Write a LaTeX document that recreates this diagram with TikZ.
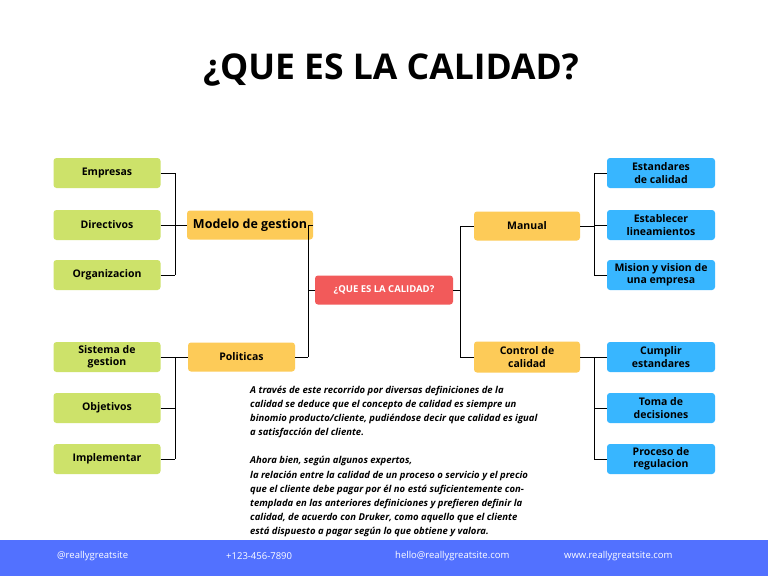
\documentclass[tikz,border=0pt]{standalone}
\usepackage{fontspec}
\setmainfont{Open Sans}
\definecolor{gr}{HTML}{CDE26A}
\definecolor{ye}{HTML}{FDCB58}
\definecolor{bl}{HTML}{38B6FF}
\definecolor{rd}{HTML}{F25A5A}
\definecolor{ft}{HTML}{5271FF}
\begin{document}
\begin{tikzpicture}[x=1pt,y=-1pt,
 bx/.style={rounded corners=3pt,align=center,font=\bfseries\fontsize{10.5}{12.5}\selectfont,inner sep=0pt},
 g/.style={bx,fill=gr,minimum width=107pt,minimum height=30pt},
 b/.style={bx,fill=bl,minimum width=108pt,minimum height=30pt},
 ln/.style={line width=0.8pt}]
\useasboundingbox (0,0) rectangle (768,576);
\fill[white] (0,0) rectangle (768,576);
\fill[ft] (0,540) rectangle (768,576);
\node[font=\bfseries\fontsize{35.5}{40}\selectfont] (title) at (391,70) {¿QUE ES LA CALIDAD?};
\node[g] (e1) at (107,173) {Empresas};
\node[g] (e2) at (107,225) {Directivos};
\node[g] (e3) at (107,275) {Organizacion};
\node[g] (e4) at (107,357) {Sistema de\\gestion};
\node[g] (e5) at (107,408) {Objetivos};
\node[g] (e6) at (107,459) {Implementar};
\node[bx,fill=ye,minimum width=126pt,minimum height=29pt,font=\bfseries\fontsize{12.5}{14}\selectfont] (mg) at (250,225) {Modelo de gestion};
\node[bx,fill=ye,minimum width=107pt,minimum height=29pt] (po) at (241.5,357) {Politicas};
\node[bx,fill=rd,text=white,minimum width=138pt,minimum height=29pt,font=\bfseries\fontsize{9.5}{11}\selectfont] (c) at (384,290) {¿QUE ES LA CALIDAD?};
\node[bx,fill=ye,minimum width=106pt,minimum height=29pt] (ma) at (527,226) {Manual};
\node[bx,fill=ye,minimum width=106pt,minimum height=31pt] (cc) at (527,357) {Control de\\calidad};
\node[b] (b1) at (661,173) {Estandares\\de calidad};
\node[b] (b2) at (661,225) {Establecer\\lineamientos};
\node[b] (b3) at (661,275) {Mision y vision de\\una empresa};
\node[b] (b4) at (661,357) {Cumplir\\estandares};
\node[b] (b5) at (661,408) {Toma de\\decisiones};
\node[b] (b6) at (661,459) {Proceso de\\regulacion};
\foreach \n in {e1,e2,e3} \draw[ln] (\n.east) -- (175,0 |- \n.east);
\draw[ln] (175,173) -- (175,275); \draw[ln] (175,225) -- (mg.west);
\foreach \n in {e4,e5,e6} \draw[ln] (\n.east) -- (175,0 |- \n.east);
\draw[ln] (175,357) -- (175,459); \draw[ln] (175,357) -- (po.west);
\draw[ln] (c.west) -- (308,290); \draw[ln] (308,225) -- (308,357);
\draw[ln] (mg.east) -- (308,225); \draw[ln] (po.east) -- (308,357);
\draw[ln] (c.east) -- (460,290); \draw[ln] (460,226) -- (460,357);
\draw[ln] (460,226) -- (ma.west); \draw[ln] (460,357) -- (cc.west);
\foreach \n in {b1,b2,b3} \draw[ln] (\n.west) -- (594,0 |- \n.west);
\draw[ln] (594,173) -- (594,275); \draw[ln] (ma.east) -- (594,226);
\foreach \n in {b4,b5,b6} \draw[ln] (\n.west) -- (594,0 |- \n.west);
\draw[ln] (594,357) -- (594,459); \draw[ln] (cc.east) -- (594,357);
\node[anchor=north west,align=left,inner sep=0pt,font=\bfseries\itshape\fontsize{9.5}{14.1}\selectfont] (txt) at (250,386) {A través de este recorrido por diversas definiciones de la\\
calidad se deduce que el concepto de calidad es siempre un\\
binomio producto/cliente, pudiéndose decir que calidad es igual\\
a satisfacción del cliente.\\[14.1pt]
Ahora bien, según algunos expertos,\\
la relación entre la calidad de un proceso o servicio y el precio\\
que el cliente debe pagar por él no está suficientemente con-\\
templada en las anteriores definiciones y prefieren definir la\\
calidad, de acuerdo con Druker, como aquello que el cliente\\
está dispuesto a pagar según lo que obtiene y valora.};
\foreach \x/\t/\nm in {57/@reallygreatsite/f1,226/+123-456-7890/f2,395/hello@reallygreatsite.com/f3,564/www.reallygreatsite.com/f4}
 \node[anchor=west,text=white,font=\fontsize{9.5}{11}\selectfont,inner sep=0pt] (\nm) at (\x,556) {\t};
\end{tikzpicture}
\end{document}
